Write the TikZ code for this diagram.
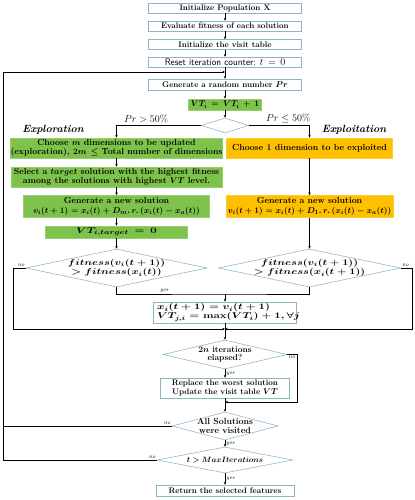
\documentclass[tikz,border=0pt]{standalone}
\usepackage{amsmath, amssymb}
\usepackage{graphicx}
\usepackage{xcolor}
\usepackage{tikz}
\usetikzlibrary{shapes.geometric,arrows.meta,positioning,calc}
\definecolor{boxline}{RGB}{140,182,198}
\definecolor{explgreen}{RGB}{125,195,75}
\definecolor{explorange}{RGB}{255,192,0}
\newcommand{\wide}[2][1.35]{\scalebox{#1}[1]{#2}}

\begin{document}
\begin{tikzpicture}[x=0.05cm, y=-0.05cm,
  stepbox/.style={rectangle, draw=boxline, line width=0.8pt, fill=white,
                  align=center, inner sep=0pt, font=\bfseries\boldmath\fontsize{11.5}{12.5}\selectfont},
  greenbox/.style={stepbox, draw=explgreen!80!white, fill=explgreen,
                   font=\bfseries\boldmath\fontsize{12.5}{13.5}\selectfont},
  orangebox/.style={greenbox, draw=explorange!80!white, fill=explorange},
  dia/.style={diamond, draw=boxline, line width=0.8pt, inner sep=0pt},
  dtext/.style={align=center, font=\bfseries\boldmath\fontsize{12}{12.5}\selectfont},
  arr/.style={-{Stealth[length=4pt,width=3.5pt]}, line width=0.8pt},
  lnk/.style={line width=0.8pt},
  lbl/.style={font=\footnotesize\itshape, inner sep=1.5pt},
  prlbl/.style={font=\fontsize{14}{14}\selectfont},
  side/.style={font=\fontsize{15}{16}\selectfont\bfseries\itshape}
]
\useasboundingbox (0,0) rectangle (415,500);

% Initialisation
\node[stepbox, minimum width=7.65cm, minimum height=0.5cm] (init) at (225,8) {Initialize Population X};
\node[stepbox, minimum width=7.65cm, minimum height=0.5cm] (eval) at (225,26) {Evaluate fitness of each solution};
\node[stepbox, minimum width=7.65cm, minimum height=0.5cm] (visit) at (225,44.5) {Initialize the visit table};
\node[stepbox, minimum width=7.65cm, minimum height=0.5cm, font=\sffamily\fontsize{13.5}{14}\selectfont] (reset) at (225,62) {Reset iteration counter: $t\,=\,0$};
\node[stepbox, minimum width=7.65cm, minimum height=0.55cm] (gen) at (225,84.5) {Generate a random number $Pr$};
\node[greenbox, minimum width=3.65cm, minimum height=0.55cm] (vt) at (225,104.5) {$VT_i\,=\,VT_i\,+\,1$};
\node[dia, minimum width=2.35cm, minimum height=0.75cm] (pr) at (225,125.5) {};

% Exploration
\node[side] (explor) at (53,130) {Exploration};
\node[greenbox, minimum width=10.55cm, minimum height=1.0cm] (dim) at (116.5,148) {Choose $m$ dimensions to be updated\\(exploration), $2m\,\leq$ Total number of dimensions};
\node[greenbox, minimum width=10.55cm, minimum height=1.0cm] (target) at (116.5,177) {Select a $target$ solution with the highest fitness\\among the solutions with highest $VT$ level.};
\node[greenbox, minimum width=9.3cm, minimum height=1.1cm] (newm) at (116.5,206.5) {Generate a new solution\\$v_i(t+1) = x_i(t) + D_m.\,r.\,(x_i(t) - x_a(t))$};
\node[greenbox, minimum width=7.1cm, minimum height=0.6cm] (vtt) at (116.5,232) {\wide[1.35]{$VT_{i,target}\,=\,0$}};
\node[dia, minimum width=9.05cm, minimum height=1.9cm,
      label={[dtext, font=\bfseries\boldmath\fontsize{13}{13.5}\selectfont]center:{\wide[1.3]{$fitness(v_i(t+1))$}\\\wide[1.3]{$>fitness(x_i(t))$}}}] (fitl) at (116.5,268) {};

% Exploitation
\node[side] (exploi) at (354,130) {Exploitation};
\node[orangebox, minimum width=8.3cm, minimum height=1.0cm] (one) at (309.5,148) {Choose 1 dimension to be exploited};
\node[orangebox, minimum width=8.35cm, minimum height=1.1cm] (new1) at (309.5,206.5) {Generate a new solution\\$v_i(t+1) = x_i(t) + D_1.\,r.\,(x_i(t) - x_a(t))$};
\node[dia, minimum width=9.1cm, minimum height=1.9cm,
      label={[dtext, font=\bfseries\boldmath\fontsize{13}{13.5}\selectfont]center:{\wide[1.3]{$fitness(v_i(t+1))$}\\\wide[1.3]{$>fitness(x_i(t+1))$}}}] (fitr) at (309.5,268) {};

% Update and stop tests
\node[stepbox, minimum width=7.15cm, minimum height=1.05cm, align=left, text width=6.8cm,
      font=\bfseries\boldmath\fontsize{13}{13}\selectfont] (upd) at (225,312.5) {\wide[1.35]{$x_i(t+1) = v_i(t+1)$}\\\wide[1.35]{$VT_{j,i} = \max(VT_i) + 1, \forall j$}};
\node[dia, minimum width=6.2cm, minimum height=1.45cm,
      label={[dtext]center:{$2n$ iterations\\elapsed?}}] (iter) at (225,354.5) {};
\node[stepbox, minimum width=6.45cm, minimum height=1.0cm] (repl) at (225,388) {Replace the worst solution\\Update the visit table $VT$};
\node[dia, minimum width=5.3cm, minimum height=1.4cm,
      label={[dtext, font=\bfseries\boldmath\fontsize{12.5}{13}\selectfont]center:{All Solutions\\were visited}}] (all) at (225,426) {};
\node[dia, minimum width=6.8cm, minimum height=1.3cm,
      label={[dtext, font=\bfseries\boldmath\fontsize{11}{12}\selectfont]center:{$t>MaxIterations$}}] (maxit) at (225,460) {};
\node[stepbox, minimum width=6.9cm, minimum height=0.55cm] (ret) at (225,490.5) {Return the selected features};

% Junctions
\coordinate (j0) at (225,72);
\coordinate (j1) at (225,294);
\coordinate (j2) at (225,329);
\coordinate (j3) at (225,402);
\coordinate (lp) at (3.5,460);

% Arrows main column
\draw[arr] (init) -- (eval);
\draw[arr] (eval) -- (visit);
\draw[arr] (visit) -- (reset);
\draw[arr] (reset) -- (gen);
\draw[arr] (gen) -- (vt);
\draw[arr] (vt) -- (pr);
\draw[arr] (pr.west) -- node[above, pos=0.65, prlbl]{$Pr>50\%$} (pr.west -| dim.north) -- (dim.north);
\draw[arr] (pr.east) -- node[above, pos=0.65, prlbl]{$Pr\leq50\%$} (pr.east -| one.north) -- (one.north);

% Arrows exploration
\draw[arr] (dim) -- (target);
\draw[arr] (target) -- (newm);
\draw[arr] (newm) -- (vtt);
\draw[arr] (vtt) -- (fitl);

% Arrows exploitation
\draw[arr] (one) -- (new1);
\draw[arr] (new1) -- (fitr);

% Merge
\draw[lnk] (fitl.south) |- node[above, lbl, pos=0.72]{yes} (j1) -| (fitr.south);
\draw[arr] (j1) -- (upd);
\draw[arr] (fitl.west) node[above left, lbl]{no} -- ++(-12,0) |- (j2);
\draw[arr] (fitr.east) node[above right, lbl]{no} -- ++(11,0) |- (j2);
\draw[arr] (upd) -- (iter);
\draw[arr] (iter) -- node[right, lbl, pos=0.55]{yes} (repl);
\draw[arr] (iter.east) node[below right, lbl]{no} -- ++(10,0) |- (j3);
\draw[arr] (repl) -- (all);
\draw[arr] (all) -- node[right, lbl]{yes} (maxit);
\draw[arr] (maxit) -- node[right, lbl]{yes} (ret);

% Loop back
\draw[lnk] (all.west) node[above left, lbl]{no} -- (all.west -| lp);
\draw[arr] (maxit.west) node[above left, lbl]{no} -- (lp) |- (j0);
\end{tikzpicture}
\end{document}
